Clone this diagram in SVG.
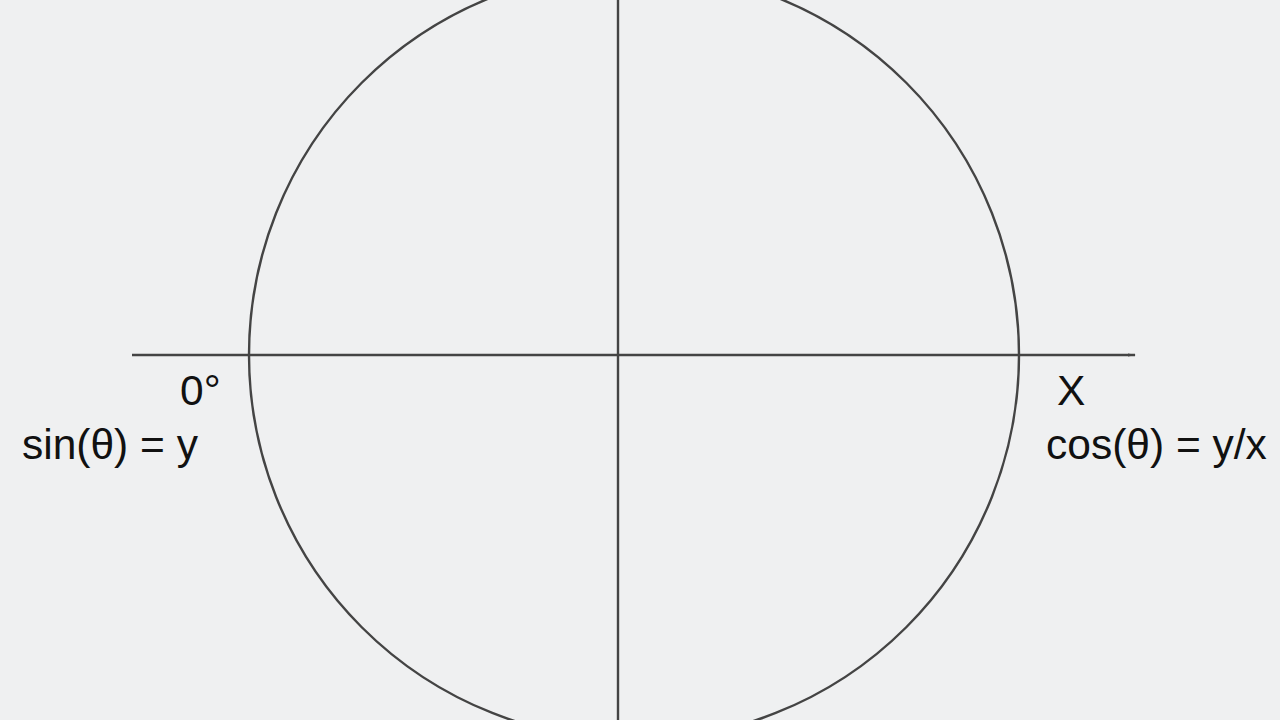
<svg xmlns="http://www.w3.org/2000/svg" width="1280" height="720" viewBox="0 0 1280 720">
<style>
.ln{stroke:#444;stroke-width:2.4;fill:none}
.t{font-family:"Liberation Sans",Arial,sans-serif;font-size:42.5px;fill:#111}
</style>
<defs>
<marker id="tip" markerWidth="8" markerHeight="6" refX="7" refY="3" orient="auto" markerUnits="userSpaceOnUse">
<path d="M0,1.5 L8,3 L0,4.5 Z" fill="#444"/>
</marker>
</defs>
<rect width="1280" height="720" fill="#eff0f1"/>
<g id="circle"><circle class="ln" cx="634" cy="355" r="385"/></g>
<g id="connectors">
<line class="ln" x1="132" y1="355" x2="1135" y2="355" marker-end="url(#tip)"/>
<line class="ln" x1="618" y1="0" x2="618" y2="720"/>
</g>
<g id="labels">
<text class="t" x="180" y="405">0°</text>
<text class="t" x="22" y="459">sin(θ) = y</text>
<text class="t" x="1057" y="405">X</text>
<text class="t" x="1046" y="459">cos(θ) = y/x</text>
</g>
</svg>
